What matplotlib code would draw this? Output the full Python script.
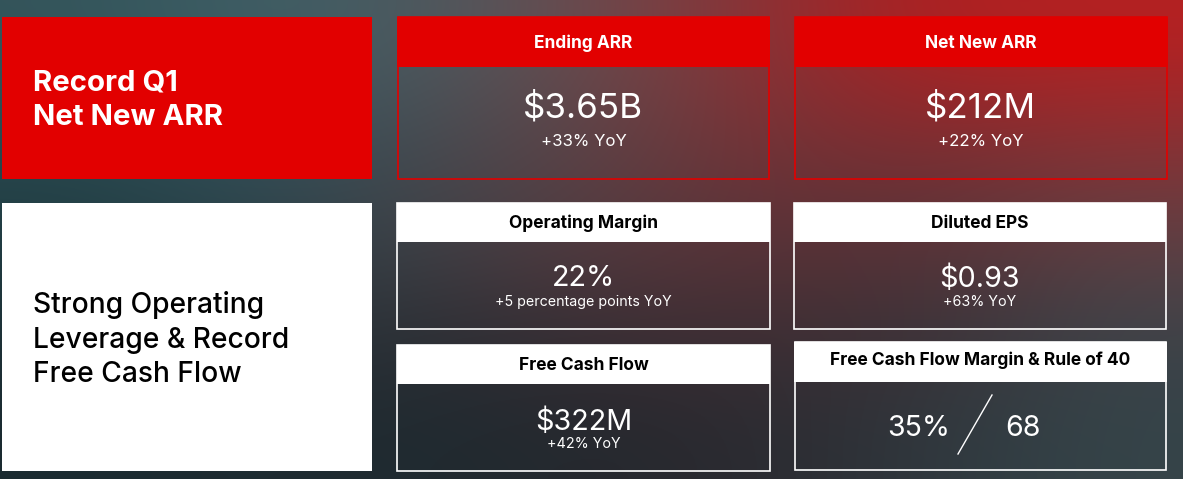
import numpy as np
import matplotlib
matplotlib.use('Agg')
import matplotlib.pyplot as plt
from matplotlib.colors import to_rgb
from matplotlib.patches import Rectangle

plt.rcParams['font.family'] = ['Inter', 'DejaVu Sans']

# Slide text
top_headline = 'Record Q1\nNet New ARR'
side_headline = 'Strong Operating\nLeverage & Record\nFree Cash Flow'
red_titles = ['Ending ARR', 'Net New ARR']
red_values = ['$3.65B', '$212M']
red_changes = ['+33% YoY', '+22% YoY']
white_titles = ['Operating Margin', 'Diluted EPS', 'Free Cash Flow']
white_values = ['22%', '$0.93', '$322M']
white_changes = ['+5 percentage points YoY', '+63% YoY', '+42% YoY']
rule_title = 'Free Cash Flow Margin & Rule of 40'
rule_left = '35%'
rule_right = '68'

# Background colours, coarse grid blurred up to full size
bg_colors = [
    ['#34555b', '#3f5f66', '#4b5a60', '#6c4a4d', '#8c3034', '#b01f20', '#b52122'],
    ['#29474d', '#33505a', '#444a50', '#5c4246', '#743236', '#7a2e32', '#873235'],
    ['#1f3c42', '#2b434a', '#3f4147', '#553a3f', '#5a3237', '#583338', '#5f4044'],
    ['#1d3036', '#29353b', '#2c2e34', '#3a2e34', '#3f2e34', '#3a3137', '#3d4349'],
    ['#1a2a30', '#1e2b31', '#1f2a30', '#25282e', '#2b2a30', '#2f383e', '#354449'],
]
bg = np.array([[to_rgb(c) for c in row] for row in bg_colors])

RED = '#e20000'
W, H = 1183, 479

fig = plt.figure(figsize=(W / 100, H / 100), dpi=100)
ax = fig.add_axes([0, 0, 1, 1])
ax.imshow(bg, extent=(0, W, H, 0), aspect='auto', interpolation='bicubic', zorder=0)
ax.set_xlim(0, W)
ax.set_ylim(H, 0)
ax.axis('off')


def px(size):
    return size * 72 / 100


def box(x0, y0, x1, y1, **kw):
    ax.add_patch(Rectangle((x0, y0), x1 - x0, y1 - y0, **kw))


def label(x, y, s, size, color='white', weight='normal', **kw):
    kw.setdefault('ha', 'center')
    ax.text(x, y, s, fontsize=px(size), color=color, fontweight=weight, va='center', **kw)


# Left blocks
box(2, 17, 372.5, 179, fc=RED, ec='none')
label(33, 100.5, top_headline, 29.4, weight='bold', ha='left', linespacing=1.36)
box(2, 203, 372.5, 471, fc='white', ec='none')
label(33, 339.5, side_headline, 28.2, color='black', weight='medium', ha='left', linespacing=1.35)

# Red header cards
red_x = [(398, 769.5, 583.5), (795.5, 1167.5, 981)]
for (x0, x1, xc), title, value, change in zip(red_x, red_titles, red_values, red_changes):
    box(x0, 16.5, x1, 178.5, fc='none', ec=RED, lw=1.2)
    box(x0 - 0.5, 16.5, x1 + 0.5, 67, fc=RED, ec='none')
    label(xc, 43, title, 17.3, weight='bold')
    label(xc, 108.5, value, 35)
    label(xc, 142, change, 16.8)

# White header cards
white_boxes = [
    (397, 770, 203, 242, 329, 279, 302),
    (794, 1166, 203, 242, 329, 279, 302),
    (397, 770, 345, 384, 471, 422, 444),
]
for (x0, x1, y0, y1, y2, yv, yc), title, value, change in zip(white_boxes, white_titles, white_values, white_changes):
    xc = (x0 + x1) / 2
    box(x0, y0, x1, y2, fc='none', ec='white', lw=1.2)
    box(x0, y0, x1, y1, fc='white', ec='none')
    label(xc, (y0 + y1) / 2 + 1, title, 17.4, color='black', weight='bold')
    label(xc, yv, value, 28.8)
    label(xc, yc, change, 14.3)

# Rule of 40 card
box(795, 342, 1166, 470, fc='none', ec='white', lw=1.2)
box(794, 342, 1167, 382, fc='white', ec='none')
label(980.5, 360.5, rule_title, 17.4, color='black', weight='bold')
label(919, 429, rule_left, 28.5)
label(1023, 429, rule_right, 28.5)
ax.plot([958, 992], [454, 395], color='white', lw=1.0)

fig.savefig('out.png', dpi=100)
